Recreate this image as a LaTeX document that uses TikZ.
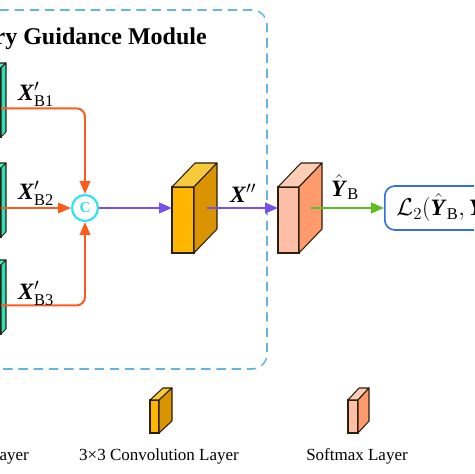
\documentclass[tikz,border=0pt]{standalone}
\usepackage{amsmath}
\usepackage{fontspec}
\setmainfont{Liberation Serif}
\usetikzlibrary{arrows.meta,positioning}
\definecolor{Aqua}{HTML}{3EF0CC}
\definecolor{AquaSide}{HTML}{2FDDB8}
\definecolor{Gold}{HTML}{FFB600}
\definecolor{GoldTop}{HTML}{F7CA3C}
\definecolor{GoldSide}{HTML}{D99400}
\definecolor{Salmon}{HTML}{FFBFA6}
\definecolor{SalmonTop}{HTML}{FFCDB6}
\definecolor{SalmonSide}{HTML}{FF9A6C}
\definecolor{Edge}{HTML}{2A2010}
\definecolor{RedOrange}{HTML}{FF5A1E}
\definecolor{Violet}{HTML}{7850F0}
\definecolor{Leaf}{HTML}{5CBF1F}
\definecolor{Cyan}{HTML}{2EE2F0}
\definecolor{SkyDash}{HTML}{68B4DC}
\definecolor{LossBlue}{HTML}{3070E0}
\newcommand{\bX}{\textbf{\textit{X}}}
\newcommand{\bY}{\textbf{\textit{Y}}}

\begin{document}
\begin{tikzpicture}[x=0.03cm, y=0.03cm,
  face/.style={draw=Edge, line width=0.9pt, outer sep=0pt, inner sep=0pt},
  flow/.style={line width=1.7pt, -{Triangle[length=11pt,width=9pt]}},
  lab/.style={font=\fontsize{20}{24}\selectfont, inner sep=0pt},
  key/.style={font=\fontsize{14.5}{17}\selectfont, inner sep=0pt}
]
  \clip (0,0) rectangle (474,474);

  %% Module frame
  \draw[SkyDash, line width=1.3pt, dash pattern=on 8pt off 5pt, rounded corners=0.45cm]
    (-40,464) rectangle (267,105);
  \node[font=\fontsize{20.5}{24}\selectfont\bfseries, anchor=base east, inner sep=0pt]
    (title) at (207,429) {ary Guidance Module};

  %% Branch feature maps (cut at the left edge)
  \node[face, fill=Aqua, minimum width=0.78cm, minimum height=2.07cm, anchor=north east] (b1) at (1,406) {};
  \node[face, fill=Aqua, minimum width=0.78cm, minimum height=2.07cm, anchor=north east] (b2) at (1,306) {};
  \node[face, fill=Aqua, minimum width=0.78cm, minimum height=2.07cm, anchor=north east] (b3) at (1,209) {};

  %% Conv and softmax blocks
  \node[face, fill=Gold,   minimum width=0.66cm, minimum height=1.98cm] (conv) at (183,254) {};
  \node[face, fill=Salmon, minimum width=0.63cm, minimum height=1.98cm] (soft) at (288.5,254) {};

  %% Legend blocks
  \node[face, fill=Gold,   minimum width=0.27cm, minimum height=0.99cm] (convkey) at (154.5,57.5) {};
  \node[face, fill=Salmon, minimum width=0.30cm, minimum height=0.99cm] (softkey) at (353,57.5) {};

  \foreach \n/\dx/\dy/\tc/\sc in {b1/5/5/Aqua/AquaSide, b2/5/5/Aqua/AquaSide, b3/5/5/Aqua/AquaSide,
      conv/23/24/GoldTop/GoldSide, soft/23/24/SalmonTop/SalmonSide,
      convkey/13/12/GoldTop/GoldSide, softkey/11/12/SalmonTop/SalmonSide} {
    \filldraw[fill=\tc, draw=Edge, line width=0.9pt, line join=round]
      (\n.north west) -- ++(\dx,\dy) -- ([shift={(\dx,\dy)}]\n.north east) -- (\n.north east) -- cycle;
    \filldraw[fill=\sc, draw=Edge, line width=0.9pt, line join=round]
      (\n.north east) -- ++(\dx,\dy) -- ([shift={(\dx,\dy)}]\n.south east) -- (\n.south east) -- cycle;
  }

  %% Concatenation
  \node[circle, draw=Cyan, line width=1.8pt, minimum size=0.78cm, inner sep=0pt,
        text=Cyan, font=\bfseries\fontsize{13}{13}\selectfont, fill=white] (cat) at (85,266) {C};

  \draw[flow, RedOrange, rounded corners=0.25cm] ([yshift=-5pt]b1.east) -| (cat.north);
  \draw[flow, RedOrange] (b2.east |- cat) -- (cat.west);
  \draw[flow, RedOrange, rounded corners=0.25cm] ([yshift=-5pt]b3.east) -| (cat.south);

  \node[lab] (xb1) at (36,380) {$\bX'_{\text{B1}}$};
  \node[lab] (xb2) at (36,281) {$\bX'_{\text{B2}}$};
  \node[lab] (xb3) at (36,181) {$\bX'_{\text{B3}}$};

  %% Main path
  \draw[flow, Violet] (cat.east) -- (cat -| conv.west);
  \draw[flow, Violet] ([xshift=11pt]conv.east |- cat) -- (cat -| soft.west);
  \node[lab] (xpp) at (243,281) {$\bX''$};

  \node[draw=LossBlue, line width=1.4pt, rounded corners=0.3cm, minimum height=1.32cm,
        minimum width=4cm, anchor=west, inner sep=0pt, align=left, text width=3.9cm,
        font=\fontsize{20}{24}\selectfont] (loss) at (384,266)
    {\hspace{0.3cm}$\mathcal{L}_2(\hat{\bY}_{\text{B}},\bY_{\text{B}})$};
  \draw[flow, Leaf] ([xshift=10pt]soft.east |- cat) -- (loss.west);
  \node[lab] (yhat) at (345,287) {$\hat{\bY}_{\text{B}}$};

  %% Legend texts
  \node[key, anchor=base east] (keyb) at (29,14) {ayer};
  \node[key, anchor=base] (keyconv) at (159,14) {3×3 Convolution Layer};
  \node[key, anchor=base] (keysoft) at (357,14) {Softmax Layer};
\end{tikzpicture}
\end{document}
